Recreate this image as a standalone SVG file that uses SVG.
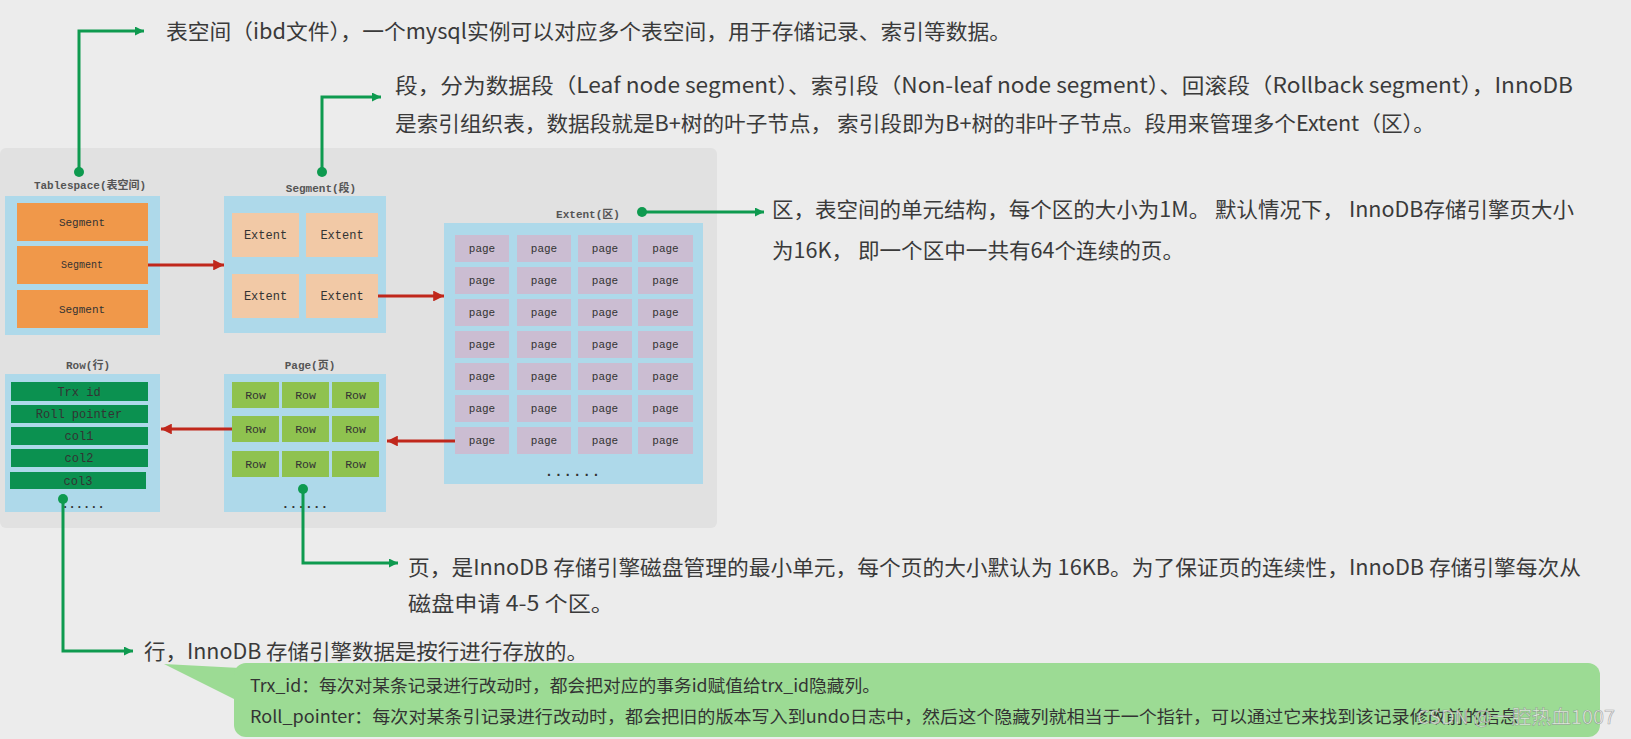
<svg xmlns="http://www.w3.org/2000/svg" width="1631" height="739" viewBox="0 0 1631 739">
<defs>
<style>
.lbl{font-family:"Liberation Mono","Noto Sans CJK SC",monospace;font-weight:bold;font-size:11px;fill:#555;text-anchor:middle}
.cell{font-family:"Liberation Mono","Noto Sans CJK SC",monospace;fill:#333;text-anchor:middle}
.box{fill:#aed9ea}
.seg{fill:#f0984a}
.ext{fill:#f2c9a6}
.pg{fill:#cbbdd2}
.rw{fill:#8fc24f}
.col{fill:#0b9150}
.txt{font-family:"Noto Sans CJK SC","Noto Sans",sans-serif;font-size:21px;fill:#3a3a3a}
.ctxt{font-family:"Noto Sans CJK SC","Noto Sans",sans-serif;font-size:17px;fill:#333}
.red{stroke:#c0271b;stroke-width:3;fill:none}
.grn{stroke:#0e9a4f;stroke-width:3;fill:none}
.dot{fill:#0e9a4f}
</style>
<marker id="ra" viewBox="0 0 10 10" refX="10" refY="5" markerWidth="4" markerHeight="3.6" orient="auto" markerUnits="strokeWidth"><path d="M0,0L10,5L0,10z" fill="#c0271b"/></marker>
<marker id="ga" viewBox="0 0 10 10" refX="10" refY="5" markerWidth="3.6" markerHeight="3" orient="auto" markerUnits="strokeWidth"><path d="M0,0L10,5L0,10z" fill="#0e9a4f"/></marker>
</defs>
<rect width="1631" height="739" fill="#ececec"/>
<rect x="0" y="148" width="717" height="380" rx="6" fill="#e1e1e1"/>

<g id="tablespace">
<text class="lbl" x="90" y="189">Tablespace(表空间)</text>
<rect class="box" x="5" y="196" width="155" height="139"/>
<rect class="seg" x="17" y="203" width="131" height="38"/>
<rect class="seg" x="17" y="246" width="131" height="38"/>
<rect class="seg" x="17" y="290" width="131" height="38"/>
<text class="cell" x="82" y="226" font-size="11">Segment</text>
<text class="cell" x="82" y="268" font-size="10">Segment</text>
<text class="cell" x="82" y="313" font-size="11">Segment</text>
</g>

<g id="segment">
<text class="lbl" x="321" y="192">Segment(段)</text>
<rect class="box" x="224" y="196" width="162" height="137"/>
<rect class="ext" x="232" y="213" width="67" height="44"/>
<rect class="ext" x="306" y="213" width="72" height="44"/>
<rect class="ext" x="232" y="274" width="67" height="44"/>
<rect class="ext" x="306" y="274" width="72" height="44"/>
<text class="cell" x="265.5" y="239" font-size="12">Extent</text>
<text class="cell" x="342" y="239" font-size="12">Extent</text>
<text class="cell" x="265.5" y="300" font-size="12">Extent</text>
<text class="cell" x="342" y="300" font-size="12">Extent</text>
</g>

<g id="extent">
<text class="lbl" x="588" y="218">Extent(区)</text>
<rect class="box" x="444" y="223" width="259" height="261"/>
<g id="pages">
<rect class="pg" x="455" y="235" width="54" height="27"/><rect class="pg" x="517" y="235" width="54" height="27"/><rect class="pg" x="578" y="235" width="54" height="27"/><rect class="pg" x="638" y="235" width="55" height="27"/>
<rect class="pg" x="455" y="267" width="54" height="27"/><rect class="pg" x="517" y="267" width="54" height="27"/><rect class="pg" x="578" y="267" width="54" height="27"/><rect class="pg" x="638" y="267" width="55" height="27"/>
<rect class="pg" x="455" y="299" width="54" height="27"/><rect class="pg" x="517" y="299" width="54" height="27"/><rect class="pg" x="578" y="299" width="54" height="27"/><rect class="pg" x="638" y="299" width="55" height="27"/>
<rect class="pg" x="455" y="331" width="54" height="27"/><rect class="pg" x="517" y="331" width="54" height="27"/><rect class="pg" x="578" y="331" width="54" height="27"/><rect class="pg" x="638" y="331" width="55" height="27"/>
<rect class="pg" x="455" y="363" width="54" height="27"/><rect class="pg" x="517" y="363" width="54" height="27"/><rect class="pg" x="578" y="363" width="54" height="27"/><rect class="pg" x="638" y="363" width="55" height="27"/>
<rect class="pg" x="455" y="395" width="54" height="27"/><rect class="pg" x="517" y="395" width="54" height="27"/><rect class="pg" x="578" y="395" width="54" height="27"/><rect class="pg" x="638" y="395" width="55" height="27"/>
<rect class="pg" x="455" y="427" width="54" height="27"/><rect class="pg" x="517" y="427" width="54" height="27"/><rect class="pg" x="578" y="427" width="54" height="27"/><rect class="pg" x="638" y="427" width="55" height="27"/>
</g>
<g class="cell" font-size="11" fill="#444">
<text x="482" y="252">page</text><text x="544" y="252">page</text><text x="605" y="252">page</text><text x="665.5" y="252">page</text>
<text x="482" y="284">page</text><text x="544" y="284">page</text><text x="605" y="284">page</text><text x="665.5" y="284">page</text>
<text x="482" y="316">page</text><text x="544" y="316">page</text><text x="605" y="316">page</text><text x="665.5" y="316">page</text>
<text x="482" y="348">page</text><text x="544" y="348">page</text><text x="605" y="348">page</text><text x="665.5" y="348">page</text>
<text x="482" y="380">page</text><text x="544" y="380">page</text><text x="605" y="380">page</text><text x="665.5" y="380">page</text>
<text x="482" y="412">page</text><text x="544" y="412">page</text><text x="605" y="412">page</text><text x="665.5" y="412">page</text>
<text x="482" y="444">page</text><text x="544" y="444">page</text><text x="605" y="444">page</text><text x="665.5" y="444">page</text>
</g>
<text class="cell" x="573" y="476" font-size="14" font-weight="bold" fill="#222" letter-spacing="1">......</text>
</g>

<g id="page">
<text class="lbl" x="310" y="369">Page(页)</text>
<rect class="box" x="224" y="374" width="162" height="138"/>
<rect class="rw" x="232" y="382" width="47" height="26"/><rect class="rw" x="282" y="382" width="47" height="26"/><rect class="rw" x="332" y="382" width="47" height="26"/>
<rect class="rw" x="232" y="416" width="47" height="26"/><rect class="rw" x="282" y="416" width="47" height="26"/><rect class="rw" x="332" y="416" width="47" height="26"/>
<rect class="rw" x="232" y="451" width="47" height="26"/><rect class="rw" x="282" y="451" width="47" height="26"/><rect class="rw" x="332" y="451" width="47" height="26"/>
<g class="cell" font-size="11.5">
<text x="255.5" y="399">Row</text><text x="305.5" y="399">Row</text><text x="355.5" y="399">Row</text>
<text x="255.5" y="433">Row</text><text x="305.5" y="433">Row</text><text x="355.5" y="433">Row</text>
<text x="255.5" y="468">Row</text><text x="305.5" y="468">Row</text><text x="355.5" y="468">Row</text>
</g>
<text class="cell" x="305" y="508" font-size="13" font-weight="bold" fill="#222">......</text>
</g>

<g id="row">
<text class="lbl" x="88" y="369">Row(行)</text>
<rect class="box" x="5" y="374" width="155" height="138"/>
<rect class="col" x="11" y="382" width="137" height="19"/>
<rect class="col" x="11" y="405" width="137" height="18"/>
<rect class="col" x="11" y="427" width="137" height="18"/>
<rect class="col" x="11" y="449" width="137" height="18"/>
<rect class="col" x="10" y="472" width="136" height="17"/>
<g class="cell" font-size="12" fill="#1d2a22">
<text x="79" y="396">Trx id</text>
<text x="79" y="418">Roll pointer</text>
<text x="79" y="440">col1</text>
<text x="79" y="462">col2</text>
<text x="78" y="485">col3</text>
</g>
<text class="cell" x="83" y="508" font-size="12" font-weight="bold" fill="#222">......</text>
</g>

<g id="connectors">
<path class="red" d="M148,265H224" marker-end="url(#ra)"/>
<path class="red" d="M378,296H444" marker-end="url(#ra)"/>
<path class="red" d="M455,441H387" marker-end="url(#ra)"/>
<path class="red" d="M232,429H161" marker-end="url(#ra)"/>
<path class="grn" d="M79,172V31H144" marker-end="url(#ga)"/>
<path class="grn" d="M322,172V97H381" marker-end="url(#ga)"/>
<path class="grn" d="M642,212H764" marker-end="url(#ga)"/>
<path class="grn" d="M303,489V563H398" marker-end="url(#ga)"/>
<path class="grn" d="M63,499V651H133" marker-end="url(#ga)"/>
<circle class="dot" cx="79" cy="172" r="5"/>
<circle class="dot" cx="322" cy="172" r="5"/>
<circle class="dot" cx="642" cy="212" r="5"/>
<circle class="dot" cx="303" cy="489" r="5"/>
<circle class="dot" cx="63" cy="499" r="5"/>
</g>

<g id="notes">
<text class="txt" x="166" y="38.5" textLength="845" lengthAdjust="spacingAndGlyphs">表空间（ibd文件），一个mysql实例可以对应多个表空间，用于存储记录、索引等数据。</text>
<text class="txt" x="395" y="92.5" textLength="1178" lengthAdjust="spacingAndGlyphs">段，分为数据段（Leaf node segment）、索引段（Non-leaf node segment）、回滚段（Rollback segment），InnoDB</text>
<text class="txt" x="395" y="130.5" textLength="1040" lengthAdjust="spacingAndGlyphs">是索引组织表，数据段就是B+树的叶子节点， 索引段即为B+树的非叶子节点。段用来管理多个Extent（区）。</text>
<text class="txt" x="772" y="216.5" textLength="802" lengthAdjust="spacingAndGlyphs">区，表空间的单元结构，每个区的大小为1M。 默认情况下， InnoDB存储引擎页大小</text>
<text class="txt" x="772" y="257.5" textLength="412" lengthAdjust="spacingAndGlyphs">为16K， 即一个区中一共有64个连续的页。</text>
<text class="txt" x="408" y="574.5" textLength="1173" lengthAdjust="spacingAndGlyphs">页，是InnoDB 存储引擎磁盘管理的最小单元，每个页的大小默认为 16KB。为了保证页的连续性，InnoDB 存储引擎每次从</text>
<text class="txt" x="408" y="610.5" textLength="206" lengthAdjust="spacingAndGlyphs">磁盘申请 4-5 个区。</text>
<text class="txt" x="144" y="658.5" textLength="444" lengthAdjust="spacingAndGlyphs">行，InnoDB 存储引擎数据是按行进行存放的。</text>
</g>

<g id="callout">
<path d="M164,664L240,668L240,702Z" fill="#9cdb94"/>
<rect x="234" y="663" width="1366" height="74" rx="12" fill="#9cdb94"/>
<text class="ctxt" x="250" y="692" textLength="630" lengthAdjust="spacingAndGlyphs">Trx_id：每次对某条记录进行改动时，都会把对应的事务id赋值给trx_id隐藏列。</text>
<text class="ctxt" x="250" y="723" textLength="1268" lengthAdjust="spacingAndGlyphs">Roll_pointer：每次对某条引记录进行改动时，都会把旧的版本写入到undo日志中，然后这个隐藏列就相当于一个指针，可以通过它来找到该记录修改前的信息</text>
</g>
<text x="1417" y="724" font-family="'Noto Sans CJK SC','Noto Sans',sans-serif" font-size="19" fill="#f4f4f4" fill-opacity="0.75" stroke="#777" stroke-opacity="0.6" stroke-width="0.6" textLength="198" lengthAdjust="spacingAndGlyphs">CSDN @一腔热血1007</text>
</svg>
